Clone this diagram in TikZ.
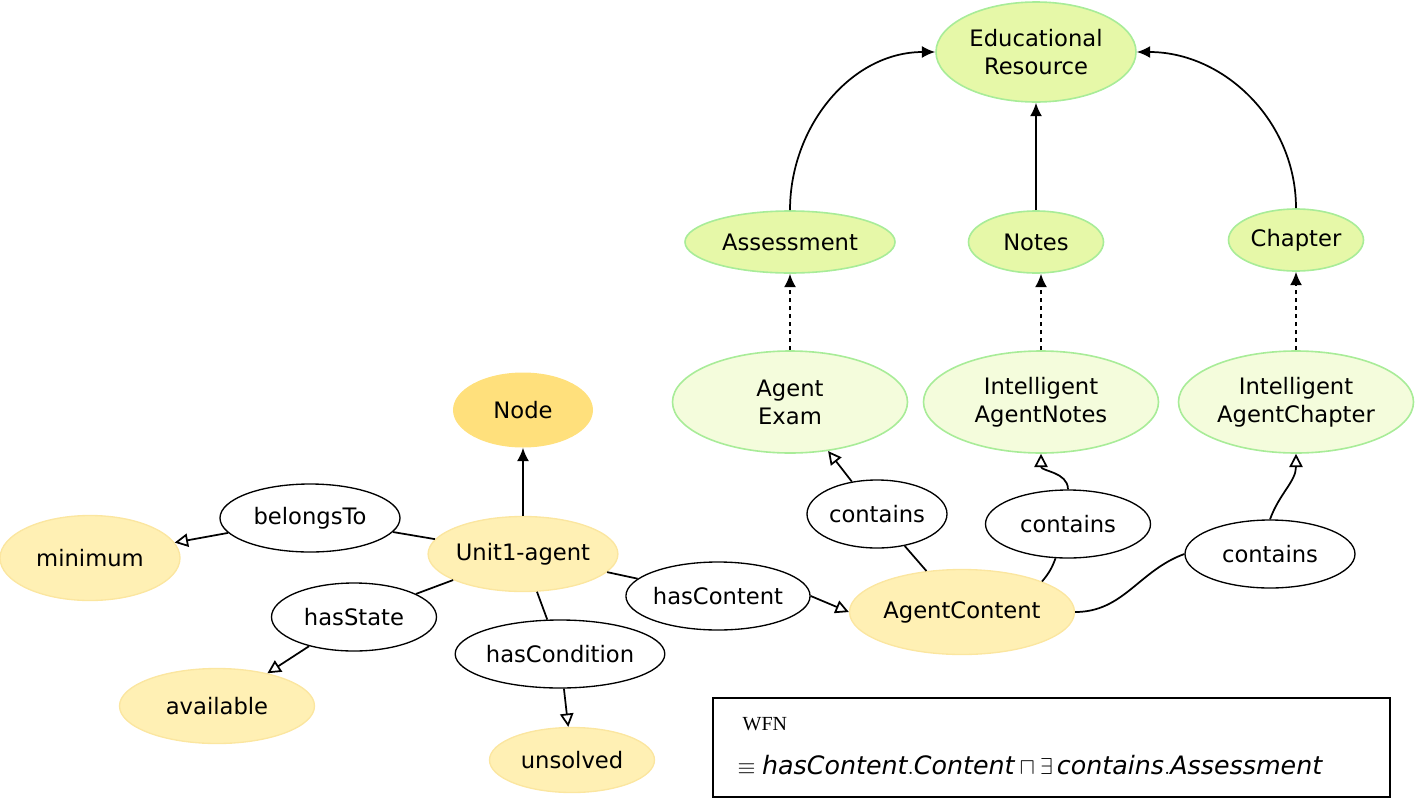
\documentclass[tikz,border=0pt]{standalone}
\usepackage{fontspec}
\setmainfont{DejaVu Sans}
\newfontfamily\serifx{Liberation Serif}
\usetikzlibrary{arrows.meta,shapes.geometric}
\definecolor{gfill}{HTML}{E6F8A8}
\definecolor{gline}{HTML}{A8EC98}
\definecolor{gfill2}{HTML}{F4FCDC}
\definecolor{yfill}{HTML}{FFF0B4}
\definecolor{yline}{HTML}{FBE6A0}
\definecolor{nfill}{HTML}{FFE07C}
\begin{document}
\begin{tikzpicture}[x=0.75pt,y=-0.75pt,font=\fontsize{17}{21}\selectfont,
 sz/.style 2 args={minimum width={0.75pt*#1},minimum height={0.75pt*#2}},
 el/.style={ellipse,inner sep=0pt,align=center},
 gr/.style={el,fill=gfill,draw=gline,line width=1.2pt},
 gr2/.style={el,fill=gfill2,draw=gline,line width=1.2pt},
 ye/.style={el,fill=yfill,draw=yline,line width=1pt},
 rel/.style={el,fill=white,draw=black,line width=1pt},
 ln/.style={line width=1.3pt},
 sa/.style={ln,-{Latex[length=10pt,width=9pt]}},
 oa/.style={ln,-{Triangle[open,length=10pt,width=10pt]}},
 da/.style={sa,dashed}]
\useasboundingbox (0,0) rectangle (1418,800);
\node[gr,sz={200}{100}] (edu) at (1036,52) {Educational\\Resource};
\node[gr,sz={210}{62}] (ass) at (790,242) {Assessment};
\node[gr,sz={135}{62}] (not) at (1036,242) {Notes};
\node[gr,sz={135}{62}] (cha) at (1296,240) {Chapter};
\node[gr2,sz={235}{102}] (ae) at (790,402) {Agent\\Exam};
\node[gr2,sz={235}{102}] (ian) at (1041,402) {Intelligent\\AgentNotes};
\node[gr2,sz={235}{102}] (iac) at (1296,402) {Intelligent\\AgentChapter};
\node[el,fill=nfill,sz={140}{75}] (nd) at (523,410) {Node};
\node[ye,sz={185}{75}] (u) at (523,554) {Unit1-agent};
\node[ye,sz={180}{85}] (min) at (90,558) {minimum};
\node[ye,sz={195}{75}] (av) at (217,706) {available};
\node[ye,sz={165}{65}] (uns) at (572,760) {unsolved};
\node[ye,sz={225}{85}] (ac) at (962,612) {AgentContent};
\node[rel,sz={180}{68}] (bt) at (310,518) {belongsTo};
\node[rel,sz={165}{68}] (hs) at (354,617) {hasState};
\node[rel,sz={182}{68}] (hc) at (560,654) {hasCondition};
\node[rel,sz={160}{68}] (hct) at (718,596) {hasContent};
\node[rel,sz={140}{68}] (c1) at (877,514) {contains};
\node[rel,sz={165}{68}] (c2) at (1068,524) {contains};
\node[rel,sz={170}{68}] (c3) at (1270,554) {contains};
\draw[sa] (ass.north) to[out=90,in=180] (edu.west);
\draw[sa] (not) -- (edu);
\draw[sa] (cha.north) to[out=90,in=0] (edu.east);
\draw[da] (ae) -- (ass);
\draw[da] (ian.north) -- (ian.north |- not.south);
\draw[da] (iac) -- (cha);
\draw[sa] (u) -- (nd);
\draw[ln] (u) -- (bt); \draw[oa] (bt) -- (min);
\draw[ln] (u) -- (hs); \draw[oa] (hs) -- (av);
\draw[ln] (u) -- (hc); \draw[oa] (hc) -- (uns);
\draw[ln] (u) -- (hct); \draw[oa] (hct.east) -- (ac.west);
\draw[ln] (ac) -- (c1); \draw[oa] (c1) -- (ae);
\draw[ln] (ac.north east) to[out=50,in=-110] (c2); \draw[oa] (c2.north) to[out=90,in=-90] (ian.south);
\draw[ln] (ac.east) to[out=0,in=200] (c3.west); \draw[oa] (c3.north) to[out=70,in=-90] (iac.south);
\node[draw,line width=1pt,sz={677}{99},inner sep=0pt] (box) at (1051.5,747.5) {};
\node[anchor=west,font=\serifx\fontsize{15}{17}\selectfont] (w) at (738,724) {WFN};
\node[anchor=west,font=\fontsize{19}{21}\selectfont] (f) at (733,765) {$\equiv \mathit{hasContent.Content} \sqcap \exists\, \mathit{contains.Assessment}$};
\end{tikzpicture}
\end{document}
